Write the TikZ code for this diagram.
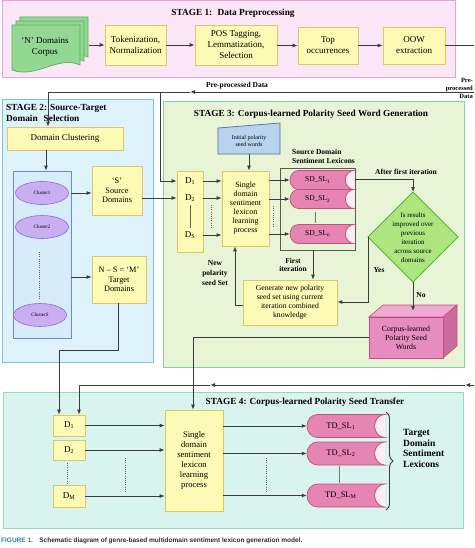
\documentclass[tikz,border=0pt]{standalone}
\usepackage{fontspec}
\setmainfont{Liberation Serif}
\newfontfamily\capfont{Liberation Sans}
\usetikzlibrary{arrows.meta,decorations.pathreplacing,shapes.geometric,calc}
\definecolor{yfill}{HTML}{FCFAB4}
\definecolor{ybord}{HTML}{D9C86A}
\definecolor{s1fill}{HTML}{FBE6F7}
\definecolor{s1bord}{HTML}{E6A2DC}
\definecolor{s2fill}{HTML}{DDF2FB}
\definecolor{s2bord}{HTML}{7FC1E6}
\definecolor{panelfill}{HTML}{D6ECF8}
\definecolor{panelbord}{HTML}{6E8EAE}
\definecolor{clfill}{HTML}{C9AEF2}
\definecolor{clbord}{HTML}{8F6FCF}
\definecolor{s3fill}{HTML}{E7F4D6}
\definecolor{s3bord}{HTML}{86D2A2}
\definecolor{s4fill}{HTML}{D9F4EF}
\definecolor{s4bord}{HTML}{98D8B8}
\definecolor{docfill}{HTML}{92D892}
\definecolor{docbord}{HTML}{5DAE5D}
\definecolor{ipfill}{HTML}{B7D3EE}
\definecolor{ipbord}{HTML}{4F6E9E}
\definecolor{pkfill}{HTML}{E684B2}
\definecolor{pkbord}{HTML}{C2507F}
\definecolor{dmfill}{HTML}{ADE67F}
\definecolor{dmbord}{HTML}{5CAE3C}
\definecolor{cbfront}{HTML}{E68CBE}
\definecolor{cbtop}{HTML}{F0A9D2}
\definecolor{cbside}{HTML}{CC6C9E}
\definecolor{ln}{HTML}{3C3C3C}
\definecolor{capblue}{HTML}{2B7DC1}
\definecolor{captext}{HTML}{2A2A2A}
\newcommand{\fsz}[2]{\fontsize{#1}{#2}\selectfont}
% stacked document page: #1 left x, #2 top y
\newcommand{\docpage}[2]{%
  \path[fill=docfill, draw=docbord, line width=0.7pt] (#1,#2) -- (#1+68,#2) -- (#1+68,#2+40)
    .. controls (#1+46,#2+30) and (#1+24,#2+54) .. (#1,#2+45) -- cycle;}
% pill: #1 name, #2 left x, #3 right x, #4 centre y, #5 height, #6 text, #7 font size
\newcommand{\pillat}[7]{%
  \pgfmathsetmacro{\pilH}{#5/2}%
  \pgfmathsetmacro{\pilR}{#5*0.45}%
  \path[pillshape] (#2+\pilR,#4-\pilH) -- (#3,#4-\pilH)
     arc[start angle=-90,end angle=-270,x radius=\pilR,y radius=\pilH]
     -- (#2+\pilR,#4+\pilH)
     arc[start angle=90,end angle=270,x radius=\pilR,y radius=\pilH] -- cycle;
  \path[fill=white!85!pkfill, draw=pkbord, line width=0.7pt] (#3,#4-\pilH)
     arc[start angle=-90,end angle=-270,x radius=\pilR,y radius=\pilH];
  \node[inner sep=0, minimum width=#3-#2, minimum height=#5] (#1) at ({(#2+#3)/2},#4) {};
  \node[inner sep=0, font=\fsz{#7}{#7}] (#1t) at ({(#2+#3-\pilR)/2},#4) {#6};}
\begin{document}
\begin{tikzpicture}[x=1pt,y=-1pt,
  conn/.style={draw=ln, line width=0.9pt},
  arr/.style={conn, -{Latex[length=5pt,width=4pt]}},
  ybox/.style={draw=ybord, fill=yfill, line width=0.7pt, align=center, inner sep=1pt},
  lab/.style={font=\bfseries\fsz{7.5}{8.5}, align=center, inner sep=0pt},
  ttl/.style={font=\bfseries\fsz{9.3}{11}, inner sep=0pt},
  stg/.style={line width=1pt, inner sep=0pt},
  dots/.style={draw=ln!80, line width=0.6pt, dash pattern=on 1pt off 1.2pt},
  pillshape/.style={fill=pkfill, draw=pkbord, line width=0.7pt},
  clus/.style={ellipse, draw=clbord, fill=clfill, line width=0.6pt, minimum width=53, minimum height=23, inner sep=0, font=\fsz{5}{6}},
  dtxt/.style={inner sep=0, font=\fsz{9}{10}},
]
\useasboundingbox (0,0) rectangle (474,548);

% ---------------- STAGE 1 ----------------
\node[stg, draw=s1bord, fill=s1fill, minimum width=453, minimum height=77] (s1) at (228.5,39.5) {};
\node[ttl] (t1) at (233,13) {STAGE 1:~ Data Preprocessing};
\docpage{20}{17}
\docpage{16}{21}
\docpage{12}{25}
\node[inner sep=0, minimum width=77, minimum height=50] (corpus) at (50.5,45) {};
\node[align=center, inner sep=0, font=\fsz{9}{10.5}] (corpust) at (45,47) {‘N’ Domains\\Corpus};
\node[ybox, minimum width=61, minimum height=40, font=\fsz{9}{11}] (tok) at (135.5,45) {Tokenization,\\Normalization};
\node[ybox, minimum width=82, minimum height=40, font=\fsz{9}{11}] (pos) at (236,45) {POS Tagging,\\Lemmatization,\\Selection};
\node[ybox, minimum width=60, minimum height=37, font=\fsz{9}{11}] (top) at (328,45.5) {Top\\occurrences};
\node[ybox, minimum width=62, minimum height=37, font=\fsz{9}{11}] (oow) at (414,45.5) {OOW\\extraction};
\draw[arr] (corpus.east |- tok.west) -- (tok.west);
\draw[arr] (tok.east) -- (pos.west |- tok.east);
\draw[arr] (pos.east |- top.west) -- (top.west);
\draw[arr] (top.east) -- (oow.west);
\coordinate (r1) at (474,45.5);
\draw[conn] (oow.east) -- (r1);
\node[font=\bfseries\fsz{6.5}{8}, align=right, anchor=east, inner sep=0] (ppr) at (473,88) {Pre-\\processed\\Data};
\node[lab] (ppl) at (237,86) {Pre-processed Data};
\coordinate (r2) at (474,92);
\coordinate (m1) at (190,92);
\coordinate (j2) at (160,92);
\coordinate (j1) at (48,92);

% ---------------- STAGE 2 ----------------
\node[stg, draw=s2bord, fill=s2fill, minimum width=151, minimum height=262] (s2) at (77.5,231) {};
\node[ttl, anchor=north west, align=left] (t2) at (6,104) {STAGE 2: Source-Target\\Domain\hspace{6pt}Selection};
\node[ybox, minimum width=116, minimum height=23, font=\fsz{9}{10}] (dc) at (65,138.5) {Domain Clustering};
\node[draw=panelbord, fill=panelfill, line width=0.7pt, minimum width=58, minimum height=167, inner sep=0] (panel) at (42,254.5) {};
\node[clus] (cl1) at (42,193) {Cluster1};
\node[clus] (cl2) at (42,227) {Cluster2};
\node[clus] (cls) at (40,315) {ClusterS};
\draw[dots] (39,252) -- (39,300);
\node[ybox, minimum width=50, minimum height=49, font=\fsz{8.3}{9.5}] (src) at (117,190.5) {‘S’\\Source\\Domains};
\node[ybox, minimum width=54, minimum height=47, font=\fsz{8.3}{9.5}] (tgt) at (119,279.5) {N – S = ‘M’\\Target\\Domains};
\coordinate (k10) at (46,160);
\coordinate (k9) at (71,277);
\draw[arr] (dc.south -| k10) -- (panel.north -| k10);
\draw[arr] (panel.east |- cl1) -- (cl1 -| src.west);
\draw[arr] (panel.east |- k9) -- (k9 -| tgt.west);

% ---------------- STAGE 3 ----------------
\node[stg, draw=s3bord, fill=s3fill, minimum width=301, minimum height=265] (s3) at (313.5,234.5) {};
\node[ttl] (t3) at (311,114) {STAGE 3: Corpus-learned Polarity Seed Word Generation};
\path[fill=ipfill, draw=ipbord, line width=0.7pt] (218,128) -- (280,123) -- (280,154) -- (218,154) -- cycle;
\node[inner sep=0, minimum width=62, minimum height=26, align=center, font=\fsz{6}{7.5}] (ip) at (249,141) {Initial polarity\\seed words};
\node[ybox, minimum width=26, minimum height=81] (d3) at (190,211.5) {};
\node[dtxt] (d31) at (190,181) {D\textsubscript{1}};
\node[dtxt] (d32) at (190,198) {D\textsubscript{2}};
\node[dtxt] (d3s) at (190,235) {D\textsubscript{S}};
\draw[draw=ln!80, line width=0.5pt] (190,205) -- (190,228);
\node[ybox, minimum width=47, minimum height=75, font=\fsz{8}{9}] (sd3) at (245.5,208.5) {Single\\domain\\sentiment\\lexicon\\learning\\process};
\draw[dots] (211,205) -- (211,229);
\draw[dots] (273,206) -- (273,228);
\node[draw=ln!85, line width=0.7pt, minimum width=75, minimum height=82, inner sep=0] (lc) at (317.5,209) {};
\node[lab, anchor=west, align=left] (lcl) at (292,156.5) {Source Domain\\Sentiment Lexicons};
\pillat{sd1}{290}{354}{180}{19}{SD\_SL\textsubscript{1}}{7.5}
\pillat{sd2}{290}{354}{199}{19}{SD\_SL\textsubscript{2}}{7.5}
\pillat{sdn}{290}{354}{234}{19}{SD\_SL\textsubscript{n}}{7.5}
\draw[draw=ln!70, line width=0.6pt] (315,212) -- (315,223);
\draw[arr] (ip.south) -- (ip.south |- sd3.north);
\draw[arr] (d31 -| d3.east) -- (d31 -| sd3.west);
\draw[arr] (d32 -| d3.east) -- (d32 -| sd3.west);
\draw[arr] (d3s -| d3.east) -- (d3s -| sd3.west);
\draw[arr] (sd3.east |- sd1) -- (sd1.west);
\draw[arr] (sd3.east |- sd2) -- (sd2.west);
\draw[arr] (sd3.east |- sdn) -- (sdn.west);
% diamond
\path[fill=dmfill, draw=dmbord, line width=0.8pt] (413,192) -- (458,237) -- (413,282) -- (368,237) -- cycle;
\node[inner sep=0, align=center, font=\fsz{7}{9}] (dm) at (413,238) {Is results\\improved over\\previous\\iteration\\across source\\domains};
\coordinate (dmt) at (413,192);
\coordinate (dmb) at (413,282);
\coordinate (dml) at (368,237);
\node[lab] (afi) at (406,172) {After first iteration};
\coordinate (k7) at (413,179);
\draw[arr] (lc.east |- k7) -- (k7) -- (dmt);
% corpus-learned cube
\path[fill=cbtop, draw=pkbord, line width=0.6pt] (369,317) -- (383,305) -- (457,305) -- (443,317) -- cycle;
\path[fill=cbside, draw=pkbord, line width=0.6pt] (443,317) -- (457,305) -- (457,346) -- (443,358) -- cycle;
\path[fill=cbfront, draw=pkbord, line width=0.6pt] (369,317) rectangle (443,358);
\node[inner sep=0, minimum width=74, minimum height=41] (cb) at (406,337.5) {};
\node[inner sep=0, align=center, font=\fsz{7.8}{9}] (cbt) at (406,337.5) {Corpus-learned\\Polarity Seed\\Words};
\coordinate (cbtp) at (413,311);
\draw[arr] (dmb) -- (cbtp);
\node[lab] (no) at (421,295) {No};
% generate
\node[ybox, minimum width=94, minimum height=45, font=\fsz{7.7}{9}] (gen) at (290,302.5) {Generate new polarity\\seed set using current\\iteration combined\\knowledge};
\coordinate (k8) at (313,250);
\draw[arr] (lc.south -| k8) -- (gen.north -| k8);
\node[lab] (fi) at (293,265) {First\\iteration};
\coordinate (k6) at (368,302);
\draw[arr] (dml) -- (k6) -- (k6 -| gen.east);
\node[lab] (yes) at (379,270) {Yes};
\coordinate (k5) at (235,305);
\draw[arr] (gen.west |- k5) -- (k5) -- (k5 |- sd3.south);
\node[lab, font=\bfseries\fsz{7.5}{10}] (np) at (215,273) {New\\polarity\\seed Set};

% connectors from stage 1 / 2 into stage 3
\draw[arr] (r2) -- (m1);
\draw[conn] (m1) -- (j1);
\draw[arr] (j1) -- (j1 |- dc.north);
\draw[arr] (j2) -- (j2 |- d31) -- (d31 -| d3.west);
\draw[arr] (src.east |- d32) -- (d32 -| d3.west);

% ---------------- STAGE 4 ----------------
\node[stg, draw=s4bord, fill=s4fill, minimum width=460, minimum height=136] (s4) at (233,460) {};
\node[ttl] (t4) at (305,402) {STAGE 4: Corpus-learned Polarity Seed Transfer};
\node[ybox, minimum width=32, minimum height=21] (d41) at (69,425.5) {};
\node[ybox, minimum width=32, minimum height=20] (d42) at (69,450) {};
\node[ybox, minimum width=32, minimum height=22] (d4m) at (69,496) {};
\node[dtxt] (d41t) at (69,425.5) {D\textsubscript{1}};
\node[dtxt] (d42t) at (69,450) {D\textsubscript{2}};
\node[dtxt] (d4mt) at (69,496) {D\textsubscript{M}};
\draw[dots] (67,463) -- (67,483);
\node[ybox, minimum width=58, minimum height=101, font=\fsz{8.6}{10}] (sd4) at (194,460.5) {Single\\domain\\sentiment\\lexicon\\learning\\process};
\draw[dots] (125,458) -- (125,493);
\draw[dots] (266,458) -- (266,493);
\pillat{td1}{307}{385}{426}{23}{TD\_SL\textsubscript{1}}{8.5}
\pillat{td2}{307}{385}{453.5}{23}{TD\_SL\textsubscript{2}}{8.5}
\pillat{tdm}{307}{385}{495.5}{23}{TD\_SL\textsubscript{M}}{8.5}
\draw[draw=ln!70, line width=0.6pt] (339,466) -- (339,483);
\draw[arr] (d41.east) -- (d41 -| sd4.west);
\draw[arr] (d42.east) -- (d42 -| sd4.west);
\draw[arr] (d4m.east) -- (d4m -| sd4.west);
\draw[arr] (sd4.east |- td1) -- (td1.west);
\draw[arr] (sd4.east |- td2) -- (td2.west);
\draw[arr] (sd4.east |- tdm) -- (tdm.west);
\draw[draw=ln, line width=0.9pt, decorate, decoration={brace, amplitude=7pt}] (386,412) -- (386,510);
\node[font=\bfseries\fsz{9.5}{10.8}, align=left, anchor=west, inner sep=0] (tdl) at (403,448.5) {Target\\Domain\\Sentiment\\Lexicons};

% connectors into stage 4
\coordinate (k1) at (118,350);
\coordinate (k2) at (59,350);
\draw[arr] (tgt.south -| k1) -- (k1) -- (k2) -- (k2 |- d41.north);
\coordinate (k4) at (193,337);
\draw[arr] (cb.west |- k4) -- (k4) -- (k4 |- sd4.north);
\coordinate (r3) at (474,385);
\coordinate (m3) at (465,385);
\coordinate (m4) at (210,385);
\coordinate (k3) at (79,385);
\draw[arr] (r3) -- (m3);
\draw[arr] (m3) -- (m4);
\draw[arr] (m4) -- (k3) -- (k3 |- d41.north);

% caption
\node[anchor=west, inner sep=0, font=\capfont\bfseries\fsz{6.5}{7.5}, text=captext] (cap) at (1,541) {\textcolor{capblue}{FIGURE 1.}\hspace{4pt} Schematic diagram of genre-based multidomain sentiment lexicon generation model.};
\end{tikzpicture}
\end{document}
